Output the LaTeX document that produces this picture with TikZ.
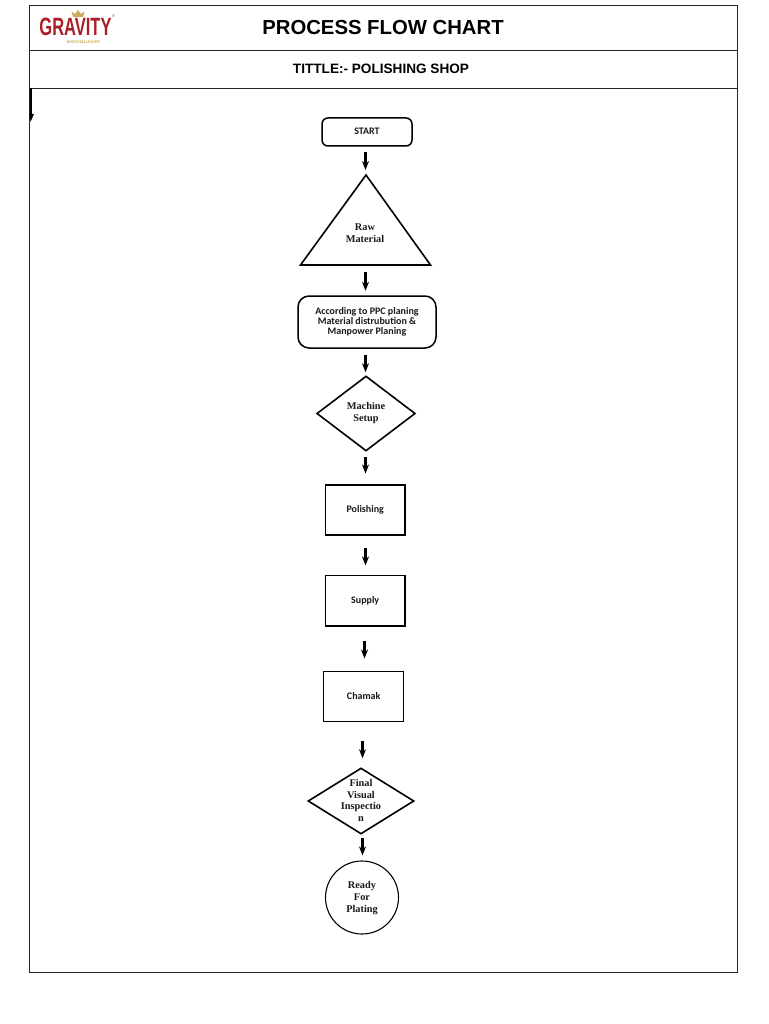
\documentclass[tikz,border=0pt]{standalone}
\usepackage{fontspec}
\setmainfont{Liberation Sans}
\newfontfamily\carl{Carlito}
\newfontfamily\tms{Liberation Serif}
\usetikzlibrary{arrows.meta,shapes.geometric}
\tikzset{
 x=1pt,y=-1pt,
 frame/.style={draw=black!85,line width=.9pt},
 boxlabel/.style={font=\carl\bfseries\fontsize{10}{10.5}\selectfont,align=center,text=black!90},
 seriflabel/.style={font=\tms\bfseries\fontsize{10.3}{11.7}\selectfont,align=center,text=black!90},
 rbox/.style={draw=black,line width=1.5pt,rounded corners=6pt,inner sep=0pt,boxlabel},
 pbox/.style={draw=black,line width=1.1pt,inner sep=0pt,boxlabel,minimum width=79.5pt,minimum height=50pt},
 dia/.style={draw=black,line width=1.6pt,diamond,aspect=1.3,inner sep=0pt,seriflabel},
 arr/.style={-{Stealth[length=9pt,width=7pt]},line width=2.1pt,black},
 arrb/.style={arr,line width=2.6pt},
}
\begin{document}
\begin{tikzpicture}
\useasboundingbox (0,0) rectangle (768,1024);
\fill[white] (0,0) rectangle (768,1024);
% frame
\draw[frame] (29.5,5.5) rectangle (737.5,972.5);
\draw[frame] (29.5,50.5) -- (737.5,50.5);
\draw[frame] (29.5,88.5) -- (737.5,88.5);
\node (title) at (383,28) {\bfseries\fontsize{20.3}{22}\selectfont PROCESS FLOW CHART};
\node (sub) at (381,68.5) {\bfseries\fontsize{13.6}{16}\selectfont TITTLE:- POLISHING SHOP};
% logo
\definecolor{logored}{RGB}{172,30,38}
\definecolor{logogold}{RGB}{205,170,90}
\node[text=logored,inner sep=0pt,xscale=.66] (logo) at (75.5,27) {\bfseries\fontsize{25}{25}\selectfont GRAVITY};
\fill[logogold] (73,17) -- (71.5,11.5) -- (75,14) -- (78,10) -- (81,14) -- (84.5,11.5) -- (83,17) -- cycle;
\node[text=logogold,inner sep=0pt] (tag) at (83.5,41.8) {\bfseries\fontsize{4}{4}\selectfont WATCH\&LUXURY};
\node[text=black!60,inner sep=0pt] (reg) at (113.5,16) {\fontsize{4}{4}\selectfont ®};
% stub
\coordinate (stubtop) at (30.8,88.5);
\coordinate (stubend) at (30.8,115);
\draw[line width=1.5pt] (stubtop) -- (stubend);
\fill (29.5,114) -- (34,114) -- (30.5,122) -- cycle;
% nodes
\node[rbox,minimum width=90pt,minimum height=28pt] (start) at (367,132) {\raisebox{2pt}{START}};
\coordinate (rawtop) at (366,175);
\coordinate (rawl) at (300.5,265);
\coordinate (rawr) at (430.5,265);
\coordinate (rawbot) at (365.5,265);
\draw[line width=1.6pt,line join=miter] (rawtop) -- (rawr) -- (rawl) -- cycle;
\node[seriflabel] (raw) at (365,233) {Raw\\Material};
\node[rbox,rounded corners=11pt,minimum width=138pt,minimum height=52pt] (plan) at (367,322)
  {According to PPC planing\\[-.5pt]Material distrubution \&\\[-.5pt]Manpower Planing};
\node[dia,minimum width=98.5pt,minimum height=75pt] (setup) at (366,413.5) {};
\node[seriflabel] (setupt) at (366,413) {Machine\\Setup};
\node[pbox] (pol) at (365.2,510) {Polishing};
\node[pbox,minimum height=50.5pt] (sup) at (365.2,600.7) {Supply};
\node[pbox,line width=1pt] (cha) at (363.7,696.5) {Chamak};
\node[dia,minimum width=106pt,minimum height=66pt] (fin) at (361,801) {};
\node[seriflabel] (fint) at (361,800.5) {Final\\Visual\\Inspectio\\n};
\node[draw=black,line width=1.1pt,circle,minimum size=73pt,inner sep=0pt] (rdy) at (362,897.5) {};
\node[seriflabel,font=\tms\bfseries\fontsize{10.3}{12.3}\selectfont] (rdyt) at (362,898) {Ready\\For\\Plating};
% connectors
\draw[arr] ([xshift=-1.5pt,yshift=-5pt]start.south) -- ([xshift=-.5pt,yshift=5pt]rawtop);
\draw[arr] ([yshift=-7pt]rawbot) -- ([xshift=-1.5pt,yshift=4.5pt]plan.north);
\draw[arr] ([xshift=-1.5pt,yshift=-6pt]plan.south) -- ([xshift=-.5pt,yshift=3pt]setup.north);
\draw[arr] ([xshift=-.5pt,yshift=-5pt]setup.south) -- ([xshift=.3pt,yshift=11pt]pol.north);
\draw[arr] ([xshift=.3pt,yshift=-12pt]pol.south) -- ([xshift=.3pt,yshift=9.5pt]sup.north);
\draw[arrb] ([xshift=-.7pt,yshift=-14pt]sup.south) -- ([xshift=.8pt,yshift=12.5pt]cha.north);
\draw[arrb] ([xshift=-1.2pt,yshift=-18.5pt]cha.south) -- ([xshift=1.5pt,yshift=9pt]fin.north);
\draw[arr] ([xshift=1.5pt,yshift=-3pt]fin.south) -- ([xshift=.5pt,yshift=5pt]rdy.north);
\end{tikzpicture}
\end{document}
